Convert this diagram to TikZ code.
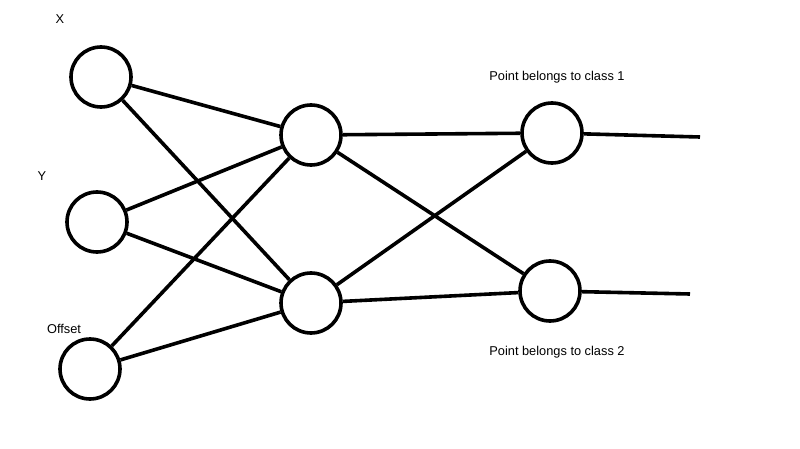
\documentclass[tikz,border=0pt]{standalone}
\usepackage{fontspec}
\setmainfont{Liberation Sans}
\begin{document}
\begin{tikzpicture}[x=1pt,y=-1pt,
  neuron/.style={circle,draw,line width=3.6pt,minimum size=60pt,inner sep=0pt},
  conn/.style={line width=3.6pt},
  lab/.style={font=\fontsize{12.8}{14}\selectfont}]
\useasboundingbox (0,0) rectangle (800,449);
\node[neuron] (x) at (101,77) {};
\node[neuron] (y) at (97,222) {};
\node[neuron] (o) at (90,369) {};
\node[neuron] (h1) at (311,135) {};
\node[neuron] (h2) at (311,303) {};
\node[neuron] (c1) at (552,133) {};
\node[neuron] (c2) at (550,291) {};
\coordinate (e1) at (700,137);
\coordinate (e2) at (690,294);
\foreach \a in {x,y,o}{\foreach \b in {h1,h2}{\draw[conn] (\a) -- (\b);}}
\foreach \a in {h1,h2}{\foreach \b in {c1,c2}{\draw[conn] (\a) -- (\b);}}
\draw[conn] (c1) -- (e1);
\draw[conn] (c2) -- (e2);
\node[lab] (lx) at (60,19) {X};
\node[lab] (ly) at (42,176) {Y};
\node[lab] (lo) at (64,329) {Offset};
\node[lab] (l1) at (557,77) {Point belongs to class 1};
\node[lab] (l2) at (557,352) {Point belongs to class 2};
\end{tikzpicture}
\end{document}
